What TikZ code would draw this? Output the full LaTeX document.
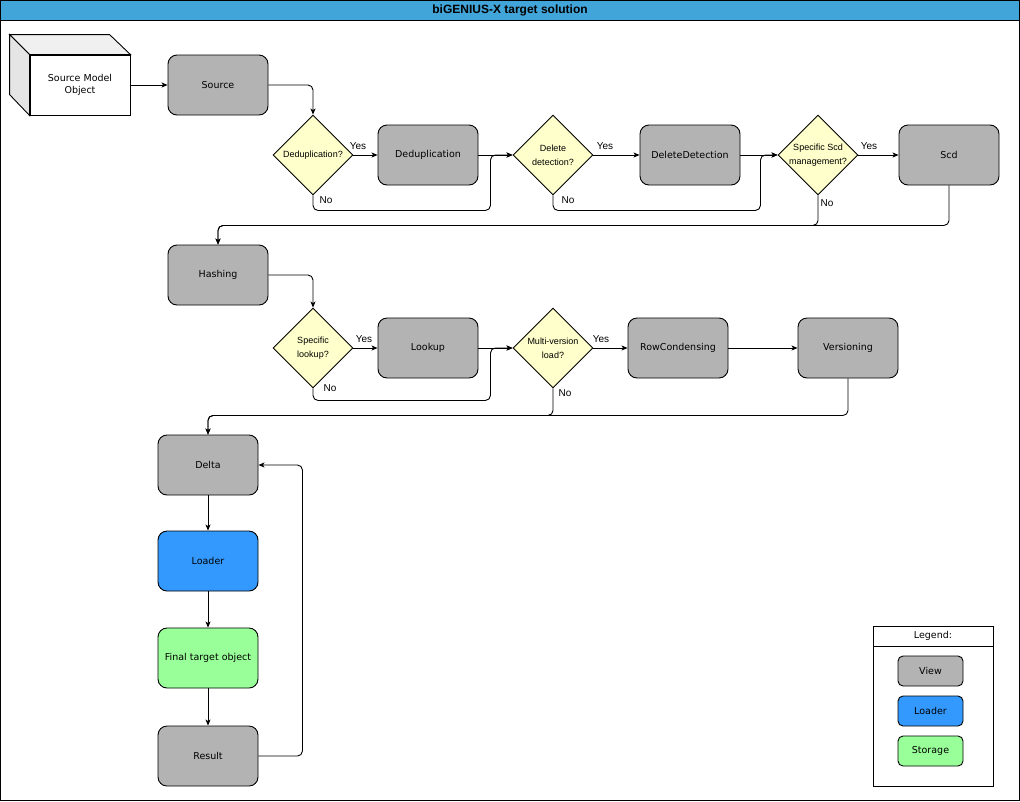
\documentclass[tikz,border=0pt]{standalone}
\usepackage{fontspec}
\setmainfont{DejaVu Sans}
\newfontfamily\arialfont{Liberation Sans}
\usepackage{tikz}
\usetikzlibrary{shapes.geometric,arrows.meta}

\definecolor{titleblue}{RGB}{66,165,218}
\definecolor{viewgray}{RGB}{179,179,179}
\definecolor{loaderblue}{RGB}{51,153,255}
\definecolor{storegreen}{RGB}{153,255,153}
\definecolor{decisionyellow}{RGB}{255,255,204}
\definecolor{cubetop}{RGB}{240,240,240}
\definecolor{cubeside}{RGB}{229,229,229}

\begin{document}
\begin{tikzpicture}[x=1pt, y=-1pt, line width=0.9pt,
    view/.style={draw, fill=viewgray, rounded corners=9pt, minimum width=100pt, minimum height=60pt, inner sep=1pt, align=center, font=\fontsize{9.5}{12}\selectfont},
    loaderbox/.style={view, fill=loaderblue},
    storebox/.style={view, fill=storegreen},
    decision/.style={draw, diamond, fill=decisionyellow, minimum width=80pt, minimum height=80pt, inner sep=0pt},
    qtext/.style={align=center, inner sep=0pt, font=\arialfont\fontsize{9}{14}\selectfont},
    answer/.style={inner sep=0pt, font=\arialfont\fontsize{10}{12}\selectfont},
    legenditem/.style={draw, rounded corners=5pt, minimum width=65pt, minimum height=30pt, inner sep=0pt, font=\fontsize{9.5}{12}\selectfont},
    flow/.style={-{Stealth[length=6pt,width=5pt,inset=1.5pt]}, rounded corners=5pt}
]
            \useasboundingbox (0,0) rectangle (1020,801);
            \fill[titleblue] (0,0) rectangle (1020,20);
            \draw (0.5,0.5) rectangle (1019.5,800.5);
            \draw (0,20) -- (1020,20);
            \node[font=\arialfont\bfseries\fontsize{12}{14}\selectfont] (title) at (510,10) {biGENIUS-X target solution};

            \node[draw, fill=white, minimum width=100pt, minimum height=60pt, align=center, font=\fontsize{9.5}{12}\selectfont] (srcobj) at (80,85) {Source Model\\Object};
            \draw[fill=cubetop] (srcobj.north west) -- ++(-20,-20) -- ++(100,0) -- (srcobj.north east) -- cycle;
            \draw[fill=cubeside] (srcobj.north west) -- ++(-20,-20) -- ++(0,60) -- (srcobj.south west) -- cycle;

            \node[view] (source) at (218,85) {Source};
            \node[decision, label={[qtext]center:Deduplication?}] (dq1) at (313,155) {};
            \node[view] (dedup) at (428,155) {Deduplication};
            \node[decision, label={[qtext]center:Delete\\detection?}] (dq2) at (553,155) {};
            \node[view] (deldet) at (690,155) {DeleteDetection};
            \node[decision, label={[qtext]center:Specific Scd\\management?}] (dq3) at (818,155) {};
            \node[view] (scd) at (949,155) {Scd};

            \node[view] (hashing) at (218,275) {Hashing};
            \node[decision, label={[qtext]center:Specific\\lookup?}] (dq4) at (313,348) {};
            \node[view] (lookup) at (428,348) {Lookup};
            \node[decision, label={[qtext]center:Multi-version\\load?}] (dq5) at (553,348) {};
            \node[view] (rowcond) at (678,348) {RowCondensing};
            \node[view] (versioning) at (848,348) {Versioning};

            \node[view] (delta) at (208,465) {Delta};
            \node[loaderbox] (loader) at (208,561) {Loader};
            \node[storebox] (final) at (208,658) {Final target object};
            \node[view] (result) at (208,756) {Result};

            \node[answer] (yes1) at (358,146) {Yes};
            \node[answer] (no1) at (326,200) {No};
            \node[answer] (yes2) at (605,146) {Yes};
            \node[answer] (no2) at (568,200) {No};
            \node[answer] (yes3) at (869,146) {Yes};
            \node[answer] (no3) at (827,203) {No};
            \node[answer] (yes4) at (364,339) {Yes};
            \node[answer] (no4) at (330,388) {No};
            \node[answer] (yes5) at (601,339) {Yes};
            \node[answer] (no5) at (565,393) {No};

            \draw[flow] (srcobj) to (source);
            \draw[flow] (source.east) -| (dq1.north);
            \draw[flow] (dq1.east) to (dedup.west);
            \draw[flow] (dedup.east) to (dq2.west);
            \draw[flow] (dq1.south) -- ++(0,15) -| ([xshift=12pt]dedup.east) -- (dq2.west);
            \draw[flow] (dq2.east) to (deldet.west);
            \draw[flow] (deldet.east) to (dq3.west);
            \draw[flow] (dq2.south) -- ++(0,15) -| ([xshift=20pt]deldet.east) -- (dq3.west);
            \draw[flow] (dq3.east) to (scd.west);
            \draw[flow] (scd.south) -- ++(0,40) -| (hashing.north);
            \draw[flow] (dq3.south) -- ++(0,30) -| (hashing.north);
            \draw[flow] (hashing.east) -| (dq4.north);
            \draw[flow] (dq4.east) to (lookup.west);
            \draw[flow] (lookup.east) to (dq5.west);
            \draw[flow] (dq4.south) -- ++(0,12) -| ([xshift=12pt]lookup.east) -- (dq5.west);
            \draw[flow] (dq5.east) to (rowcond.west);
            \draw[flow] (rowcond) to (versioning);
            \draw[flow] (versioning.south) -- ++(0,37) -| (delta.north);
            \draw[flow] (dq5.south) -- ++(0,27) -| (delta.north);
            \draw[flow] (delta) to (loader);
            \draw[flow] (loader) to (final);
            \draw[flow] (final) to (result);
            \draw[flow] (result.east) -- ++(44,0) |- (delta.east);

            \draw (873,626) rectangle (993,786);
            \draw (873,646) -- (993,646);
            \node[font=\fontsize{9.5}{12}\selectfont] (legend) at (933,636) {Legend:};
            \node[legenditem, fill=viewgray] (legview) at (930.5,671) {View};
            \node[legenditem, fill=loaderblue] (legloader) at (930.5,711) {Loader};
            \node[legenditem, fill=storegreen] (legstore) at (930.5,751) {Storage};

\end{tikzpicture}
\end{document}
